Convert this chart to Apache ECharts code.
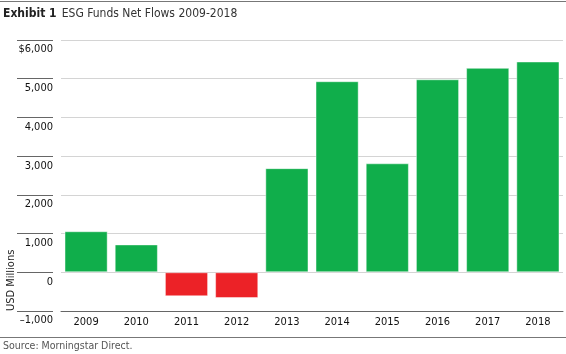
<!DOCTYPE html>
<html><head><meta charset="utf-8">
<script src="https://cdn.jsdelivr.net/npm/echarts@6/dist/echarts.min.js"></script>
<style>html,body{margin:0;padding:0;background:#fff}#c{width:566px;height:354px}</style>
</head><body><div id="c"></div>
<script>
const years = ['2009','2010','2011','2012','2013','2014','2015','2016','2017','2018'];
const netFlows = [1060, 720, -620, -665, 2690, 4935, 2815, 4985, 5280, 5445];
const yTickLabels = {6000:'$6,000',5000:'5,000',4000:'4,000',3000:'3,000',2000:'2,000',1000:'1,000',0:'0','-1000':'\u20131,000'};
const FONT = '"Liberation Sans Narrow","DejaVu Sans Condensed",sans-serif';
const chart = echarts.init(document.getElementById('c'), null, {renderer:'canvas'});
chart.setOption({
  animation:false,
  textStyle:{fontFamily:FONT},
  title:{
    left:3, top:5, padding:0,
    text:'{b|Exhibit 1} {n|ESG Funds Net Flows 2009-2018}',
    textStyle:{fontWeight:'normal',rich:{
      b:{fontFamily:FONT,fontWeight:'bold',fontSize:12,color:'#222'},
      n:{fontFamily:FONT,fontWeight:'normal',fontSize:12,color:'#333'}
    }}
  },
  grid:[
    {left:61, right:3, top:40, bottom:43},
    {left:17, width:36, top:40, bottom:43}
  ],
  xAxis:[
    {gridIndex:0,type:'category',data:years,
     axisLine:{onZero:false,lineStyle:{color:'#666',width:1}},
     axisTick:{show:false},
     axisLabel:{color:'#111',fontSize:11,fontFamily:FONT,margin:6}},
    {gridIndex:1,type:'category',data:['a'],show:false}
  ],
  yAxis:[
    {gridIndex:0,type:'value',min:-1000,max:6000,interval:1000,
     axisLine:{show:false},axisTick:{show:false},
     splitLine:{lineStyle:{color:'#d4d4d4',width:1}},
     axisLabel:{color:'#111',fontSize:11,fontFamily:FONT,margin:8,verticalAlign:'top',padding:[4,0,0,0],
       formatter:v=>yTickLabels[v] ?? ''}},
    {gridIndex:1,type:'value',min:-1000,max:6000,interval:1000,
     axisLine:{show:false},axisTick:{show:false},axisLabel:{show:false},
     splitLine:{lineStyle:{color:'#666',width:1}},
     name:'USD Millions',nameLocation:'start',nameRotate:90,nameGap:0,
     nameTextStyle:{fontFamily:FONT,fontSize:11,color:'#222',align:'left',verticalAlign:'bottom',padding:[0,0,0,0]}}
  ],
  graphic:[
    {type:'line',shape:{x1:0,y1:1.5,x2:566,y2:1.5},style:{stroke:'#777',lineWidth:1}},
    {type:'line',shape:{x1:0,y1:337.5,x2:566,y2:337.5},style:{stroke:'#777',lineWidth:1}},
    {type:'text',left:3,top:341,style:{text:'Source: Morningstar Direct.',fill:'#555',font:'10.5px '+FONT}}
  ],
  series:[{
    type:'bar',xAxisIndex:0,yAxisIndex:0,barWidth:'86%',
    data:netFlows.map(v=>({value:v,itemStyle:{color:v<0?'#ec2227':'#10ae4b'}})),
    itemStyle:{borderColor:'rgba(255,255,255,0.45)',borderWidth:1}
  }]
});
</script></body></html>
